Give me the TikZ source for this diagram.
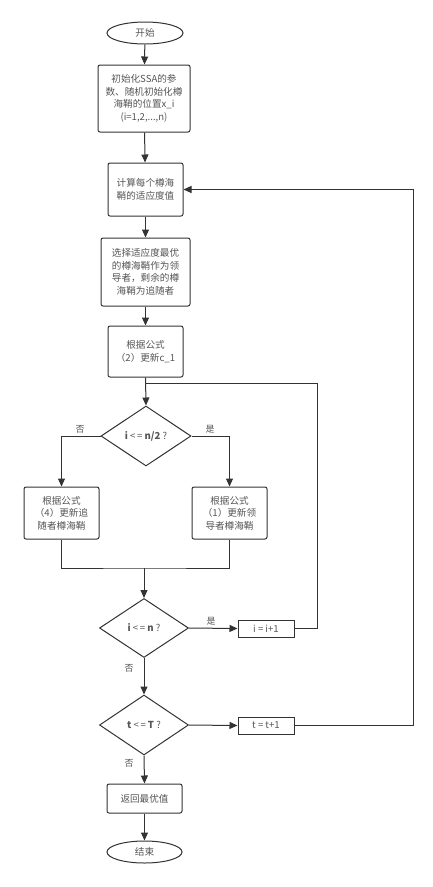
\documentclass[tikz,border=0pt]{standalone}
\usepackage{fontspec}
\setmainfont{Noto Sans CJK SC}
\usetikzlibrary{shapes.geometric,arrows.meta}
\definecolor{ln}{HTML}{333333}
\definecolor{tx}{HTML}{555555}
\begin{document}
\begin{tikzpicture}[x=1pt,y=-1pt,
  every node/.style={text=tx,font=\fontsize{9.6}{12.5}\selectfont},
  proc/.style={draw=ln,line width=1pt,rounded corners=2pt,align=center,inner sep=0pt},
  term/.style={draw=ln,line width=1pt,ellipse,inner sep=0pt},
  dec/.style={draw=ln,line width=1pt,diamond,inner sep=0pt,minimum width=90pt,minimum height=60pt,aspect=1.5},
  small/.style={draw=ln,line width=1pt,inner sep=0pt},
  conn/.style={draw=ln,line width=1pt},
  arr/.style={conn,-{Triangle[length=8pt,width=7pt]}},
  lab/.style={font=\fontsize{9}{10}\selectfont}]
\useasboundingbox (0,0) rectangle (433,887);
\node[term,minimum width=76pt,minimum height=22pt] (start) at (145,33) {开始};
\node[proc,minimum width=92pt,minimum height=67pt] (b1) at (144,98.5) {初始化SSA的参\\数、随机初始化樽\\海鞘的位置x\_i\\(i=1,2,...,n)};
\node[proc,minimum width=75pt,minimum height=53pt] (b2) at (145.5,189.5) {计算每个樽海\\鞘的适应度值};
\node[proc,minimum width=89pt,minimum height=68pt] (b3) at (145.5,272) {选择适应度最优\\的樽海鞘作为领\\导者，剩余的樽\\海鞘为追随者};
\node[proc,minimum width=75pt,minimum height=51pt] (b4) at (145.5,351.5) {根据公式\\（2）更新c\_1};
\node[dec] (d1) at (146,436) {\textbf{i} <\,= \textbf{n/2} ?};
\node[proc,minimum width=75pt,minimum height=52pt] (bl) at (61.5,513) {根据公式\\（4）更新追\\随者樽海鞘};
\node[proc,minimum width=75pt,minimum height=52pt] (br) at (229.5,513) {根据公式\\（1）更新领\\导者樽海鞘};
\node[dec,minimum width=89pt,minimum height=59pt] (d2) at (144,628) {\textbf{i} <\,= \textbf{n} ?};
\node[small,minimum width=56pt,minimum height=17pt] (ii) at (266,628.5) {i = i+1};
\node[dec,minimum width=89pt,minimum height=60pt] (d3) at (144,725) {\textbf{t} <\,= \textbf{T} ?};
\node[small,minimum width=56pt,minimum height=17pt] (tt) at (266,725.5) {t = t+1};
\node[proc,minimum width=75pt,minimum height=29pt] (ret) at (144.5,798.5) {返回最优值};
\node[term,minimum width=75pt,minimum height=22pt] (end) at (144.5,852) {结束};
\coordinate (j1) at (145.5,383);
\coordinate (m) at (144,568);
\coordinate (rr) at (317,628.5);
\coordinate (rt) at (413,725.5);
\draw[arr] (start) -- (b1);
\draw[arr] (b1) -- (b2);
\draw[arr] (b2) -- (b3);
\draw[arr] (b3) -- (b4);
\draw[arr] (b4.south) -- (d1.north);
\draw[arr] (d1.west) -| (bl.north);
\draw[arr] (d1.east) -| (br.north);
\draw[conn] (bl.south) |- (m) -| (br.south);
\draw[arr] (m) -- (d2.north);
\draw[arr] (d2.east) -- (ii.west);
\draw[conn] (ii.east) -- (rr) |- (j1);
\draw[arr] (d2.south) -- (d3.north);
\draw[arr] (d3.east) -- (tt.west);
\draw[arr] (tt.east) -- (rt) |- (b2.east);
\draw[arr] (d3.south) -- (ret.north);
\draw[arr] (ret) -- (end);
\node[lab] (l1) at (80,429) {否};
\node[lab] (l2) at (210,429) {是};
\node[lab] (l3) at (211,621) {是};
\node[lab] (l4) at (129,668) {否};
\node[lab] (l5) at (129,763) {否};
\end{tikzpicture}
\end{document}
